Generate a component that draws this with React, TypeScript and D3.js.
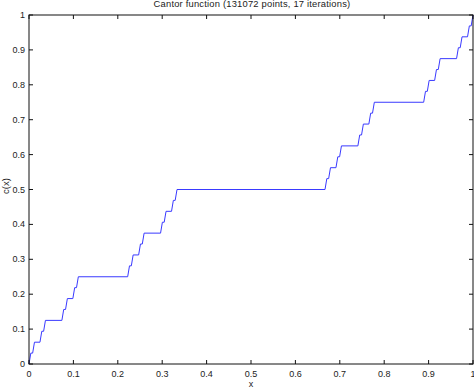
import React from "react";
import * as d3 from "d3";

// Cantor staircase read as plateaus: x in units of 1/243, level in units of 1/32
const X_DENOM = 243;
const Y_DENOM = 32;
const stepStart = [1, 3, 7, 9, 19, 21, 25, 27, 55, 57, 61, 63, 73, 75, 79, 81, 163, 165, 169, 171, 181, 183, 187, 189, 217, 219, 223, 225, 235, 237, 241];
const stepEnd = [2, 6, 8, 18, 20, 24, 26, 54, 56, 60, 62, 72, 74, 78, 80, 162, 164, 168, 170, 180, 182, 186, 188, 216, 218, 222, 224, 234, 236, 240, 242];
const stepLevel = [1, 2, 3, 4, 5, 6, 7, 8, 9, 10, 11, 12, 13, 14, 15, 16, 17, 18, 19, 20, 21, 22, 23, 24, 25, 26, 27, 28, 29, 30, 31];
const xTicks = [0, 0.1, 0.2, 0.3, 0.4, 0.5, 0.6, 0.7, 0.8, 0.9, 1];
const yTicks = [0, 0.1, 0.2, 0.3, 0.4, 0.5, 0.6, 0.7, 0.8, 0.9, 1];
const title = "Cantor function (131072 points, 17 iterations)";

export default function App() {
  const W = 474, H = 388;
  const L = 29, R = 473, T = 15, B = 364;
  const x = d3.scaleLinear().domain([0, 1]).range([L, R]);
  const y = d3.scaleLinear().domain([0, 1]).range([B, T]);
  const pts: [number, number][] = [[0, 0]];
  stepStart.forEach((s, i) => {
    const lv = stepLevel[i] / Y_DENOM;
    pts.push([s / X_DENOM, lv]);
    pts.push([stepEnd[i] / X_DENOM, lv]);
  });
  pts.push([1, 1]);
  const line = d3.line<[number, number]>().x(d => x(d[0])).y(d => y(d[1]));
  const font = "'Liberation Sans', Arial, sans-serif";
  const fmt = (v: number) => (v === 0 || v === 1 ? String(v) : v.toFixed(1));
  return (
    <svg width={W} height={H} style={{ position: "absolute", left: 0, top: 0, background: "#fff" }} fontFamily={font}>
      <rect x={0} y={0} width={W} height={H} fill="#fff" />
      <text x={252} y={7} fontSize={9.4} letterSpacing={0.2} textAnchor="middle" fill="#222">{title}</text>
      <path d={line(pts) || ""} fill="none" stroke="#3a3aff" strokeWidth={1} />
      <rect x={L} y={T} width={R - L} height={B - T} fill="none" stroke="#111" strokeWidth={1} />
      {xTicks.map(t => (
        <g key={"x" + t}>
          <line x1={x(t)} x2={x(t)} y1={B} y2={B - 4} stroke="#111" />
          <line x1={x(t)} x2={x(t)} y1={T} y2={T + 4} stroke="#111" />
          <text x={x(t)} y={377} fontSize={9} textAnchor="middle" fill="#222">{fmt(t)}</text>
        </g>
      ))}
      {yTicks.map(t => (
        <g key={"y" + t}>
          <line x1={L} x2={L + 4} y1={y(t)} y2={y(t)} stroke="#111" />
          <line x1={R} x2={R - 4} y1={y(t)} y2={y(t)} stroke="#111" />
          <text x={25} y={y(t) + 3} fontSize={9} textAnchor="end" fill="#222">{fmt(t)}</text>
        </g>
      ))}
      <text x={251} y={387} fontSize={9} textAnchor="middle" fill="#222">x</text>
      <text transform={`translate(9,186) rotate(-90)`} fontSize={9.5} textAnchor="middle" fill="#222">c(x)</text>
    </svg>
  );
}
